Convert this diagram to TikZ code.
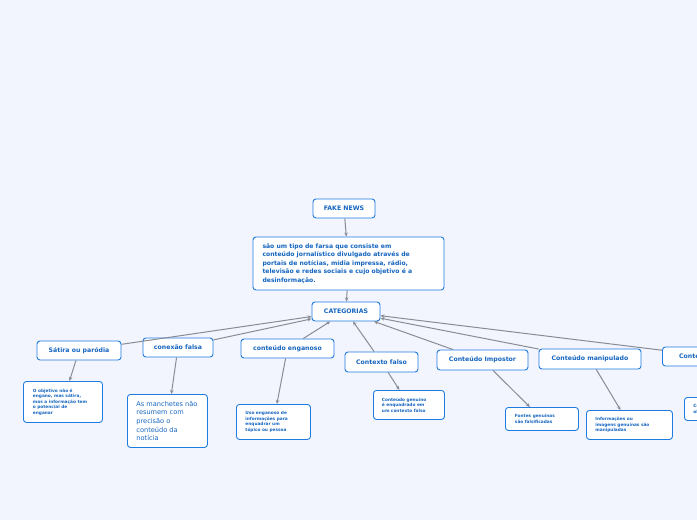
\documentclass[tikz,border=0pt]{standalone}
\usepackage{fontspec}
\setmainfont{DejaVu Sans}
\usetikzlibrary{arrows.meta}
\definecolor{bg}{HTML}{F2F5FE}
\definecolor{tx}{HTML}{1565C0}
\definecolor{bd}{HTML}{1E7BE0}
\definecolor{ln}{HTML}{888C94}
\begin{document}
\begin{tikzpicture}[x=1pt,y=-1pt,
 box/.style={draw=bd,line width=0.9pt,fill=white,rounded corners=3pt,text=tx,font=\bfseries\fontsize{6.2}{7.5}\selectfont,align=center,inner sep=2pt},
 leaf/.style={draw=bd,line width=0.9pt,fill=white,rounded corners=3pt,text=tx,font=\bfseries\fontsize{4.3}{5.6}\selectfont,align=left,anchor=north west,inner sep=0pt},
 arr/.style={draw=ln,line width=1pt,-{Stealth[length=4pt,width=3.5pt]}}]
\fill[bg] (0,0) rectangle (697,520);
\useasboundingbox (0,0) rectangle (697,520);
\begin{scope}
\clip (0,0) rectangle (697,520);
\node[box,minimum width=62pt,minimum height=19pt] (fn) at (344,208.5) {FAKE NEWS};
\node[leaf,anchor=center,minimum width=191pt,minimum height=53pt,font=\bfseries\fontsize{6.1}{8.6}\selectfont] (d) at (348.5,263.5) {\hspace{8pt}\begin{minipage}[c][53pt][c]{180pt}são um tipo de farsa que consiste em\\conteúdo jornalístico divulgado através de\\portais de notícias, mídia impressa, rádio,\\televisão e redes sociais e cujo objetivo é a\\desinformação.\end{minipage}};
\node[box,minimum width=68pt,minimum height=19pt] (cat) at (346,311.5) {CATEGORIAS};
\node[box,minimum width=84pt,minimum height=19pt] (s) at (79,350.5) {Sátira ou paródia};
\node[box,minimum width=70pt,minimum height=19pt] (c) at (178,347.5) {conexão falsa};
\node[box,minimum width=93pt,minimum height=19pt] (e) at (287.5,348.5) {conteúdo enganoso};
\node[box,minimum width=73pt,minimum height=20pt] (x) at (381.5,362) {Contexto falso};
\node[box,minimum width=91pt,minimum height=20pt] (i) at (482.5,360) {Conteúdo Impostor};
\node[box,minimum width=102pt,minimum height=20pt] (m) at (590,359) {Conteúdo manipulado};
\node[box,minimum width=102pt,minimum height=19pt,anchor=west] (f) at (662,356.5) {Conteúdo fabricado};
\node[leaf,minimum width=79pt,minimum height=41pt] (sl) at (23,381) {\hspace{8pt}\begin{minipage}[c][41pt][c]{68pt}O objetivo não é\\engano, mas sátira,\\mas a informação tem\\o potencial de\\enganar\end{minipage}};
\node[leaf,minimum width=80pt,minimum height=53pt,font=\fontsize{6.6}{8.6}\selectfont] (cl) at (127,394) {\hspace{8pt}\begin{minipage}[c][53pt][c]{70pt}As manchetes não\\resumem com\\precisão o\\conteúdo da\\notícia\end{minipage}};
\node[leaf,minimum width=74pt,minimum height=35pt] (el) at (236,404) {\hspace{8pt}\begin{minipage}[c][35pt][c]{64pt}Uso enganoso de\\informações para\\enquadrar um\\tópico ou pessoa\end{minipage}};
\node[leaf,minimum width=71pt,minimum height=29pt] (xl) at (373,390) {\hspace{8pt}\begin{minipage}[c][29pt][c]{62pt}Conteúdo genuíno\\é enquadrado em\\um contexto falso\end{minipage}};
\node[leaf,minimum width=73pt,minimum height=23pt] (il) at (505,407) {\hspace{8pt}\begin{minipage}[c][23pt][c]{62pt}Fontes genuínas\\são falsificadas\end{minipage}};
\node[leaf,minimum width=86pt,minimum height=29pt] (ml) at (586,410) {\hspace{8pt}\begin{minipage}[c][29pt][c]{76pt}Informações ou\\imagens genuínas são\\manipuladas\end{minipage}};
\node[leaf,minimum width=86pt,minimum height=23pt] (fl) at (684,397) {\hspace{8pt}\begin{minipage}[c][23pt][c]{76pt}Conteúdo falso\\objetivo enganar\end{minipage}};
\draw[arr] (fn) -- (d);
\draw[arr] (d) -- (cat);
\foreach \n in {s,c,e,x,i,m,f} \draw[arr] (\n) -- (cat);
\draw[arr] (s) -- (sl);
\draw[arr] (c) -- (cl);
\draw[arr] (e) -- (el);
\draw[arr] (x) -- (xl);
\draw[arr] (i) -- (il);
\draw[arr] (m) -- (ml);
\draw[arr] (f) -- (fl);
\end{scope}
\end{tikzpicture}
\end{document}
